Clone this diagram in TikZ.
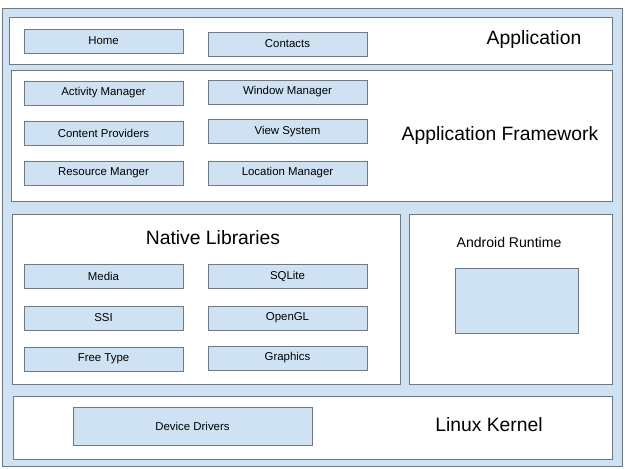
\documentclass[tikz,border=0pt]{standalone}
\usepackage{fontspec}
\setmainfont{Liberation Sans}
\definecolor{paleblue}{HTML}{CFE2F3}
\definecolor{edgegrey}{HTML}{6F7780}
\tikzset{
  panel/.style={draw=edgegrey, fill=white, line width=0.5pt},
  comp/.style={draw=edgegrey, fill=paleblue, line width=0.5pt, font=\fontsize{6.5}{8}\selectfont},
  title/.style={font=\fontsize{11}{13}\selectfont},
}
\begin{document}
\begin{tikzpicture}[x=0.02cm, y=-0.02cm]
\useasboundingbox (0, 0) rectangle (625, 469);
\draw [fill=paleblue, draw=edgegrey] (2, 8) rectangle (622, 466);
% panels
\draw [panel] (9, 17) rectangle (612, 64);
\draw [panel] (11, 70) rectangle (612, 201);
\draw [panel] (12, 214) rectangle (400, 384);
\draw [panel] (409, 214) rectangle (612, 384);
\draw [panel] (13, 396) rectangle (612, 459);
% application
\node [comp, minimum width=3.18cm, minimum height=0.48cm] (home) at (103.5, 41) {Home};
\node [comp, minimum width=3.18cm, minimum height=0.48cm] (contacts) at (287.5, 44) {Contacts};
\node [title] (app) at (534, 40) {Application};
% framework
\node [comp, minimum width=3.18cm, minimum height=0.48cm] (activity) at (103.5, 93) {Activity Manager};
\node [comp, minimum width=3.18cm, minimum height=0.48cm] (window) at (287.5, 92) {Window Manager};
\node [comp, minimum width=3.18cm, minimum height=0.48cm] (content) at (103.5, 133) {Content Providers};
\node [comp, minimum width=3.18cm, minimum height=0.48cm] (view) at (287.5, 131.5) {View System};
\node [comp, minimum width=3.18cm, minimum height=0.48cm] (resource) at (103.5, 173) {Resource Manger};
\node [comp, minimum width=3.18cm, minimum height=0.48cm] (location) at (287.5, 173) {Location Manager};
\node [title] (framework) at (500, 136) {Application Framework};
% native libraries
\node [title] (native) at (213, 238) {Native Libraries};
\node [comp, minimum width=3.18cm, minimum height=0.48cm] (media) at (103.5, 276) {Media};
\node [comp, minimum width=3.18cm, minimum height=0.48cm] (sqlite) at (287.5, 276) {SQLite};
\node [comp, minimum width=3.18cm, minimum height=0.48cm] (ssi) at (103.5, 318) {SSI};
\node [comp, minimum width=3.18cm, minimum height=0.48cm] (opengl) at (287.5, 318) {OpenGL};
\node [comp, minimum width=3.18cm, minimum height=0.48cm] (freetype) at (103.5, 359) {Free Type};
\node [comp, minimum width=3.18cm, minimum height=0.48cm] (graphics) at (287.5, 358) {Graphics};
% runtime
\node [font=\fontsize{8}{10}\selectfont] (runtime) at (509, 242) {Android Runtime};
\node [comp, minimum width=2.46cm, minimum height=1.3cm] (vm) at (516.5, 300.5) {};
% kernel
\node [comp, minimum width=4.78cm, minimum height=0.76cm] (drivers) at (192.5, 426) {Device Drivers};
\node [title] (kernel) at (489, 425) {Linux Kernel};
\end{tikzpicture}
\end{document}
